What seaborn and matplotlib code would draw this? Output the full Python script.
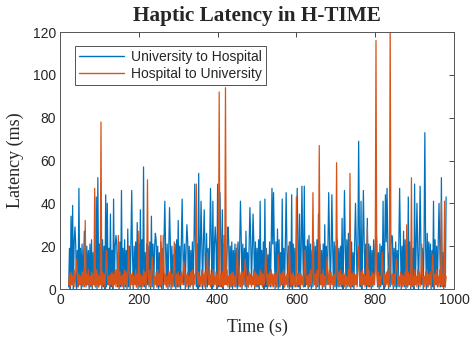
import numpy as np
import pandas as pd
import matplotlib
matplotlib.use("Agg")
import matplotlib.pyplot as plt
import seaborn as sns

# Readings every 2 s from 22 s to 980 s
time_start, time_step, n_samples = 22, 2, 480

# University -> Hospital: ordinary latency readings (ms)
uni_to_hosp_base = [
    1, 19, 0, 21, 2, 17, 0, 22, 1, 20, 0, 18, 1, 23, 2, 19, 0, 21, 1, 16,
    0, 22, 1, 20, 2, 18, 0, 21, 1, 23, 0, 17, 2, 20, 1, 22, 0, 19, 1, 21,
    2, 18, 0, 23, 1, 20, 0, 16, 1, 22, 2, 19, 0, 21, 1, 18, 0, 22, 2, 20,
    0, 21, 1, 17, 0, 22, 1, 20, 2, 19, 0, 23, 1, 18, 0, 21, 1, 20, 0, 22,
    1, 16, 0, 20, 2, 22, 1, 19, 0, 21, 1, 18, 0, 23, 2, 20, 1, 17, 0, 21,
    2, 20, 1, 22, 0, 18, 1, 21, 0, 19, 2, 23, 1, 20, 0, 17, 1, 22, 0, 19,
    0, 23, 2, 19, 1, 21, 0, 18, 1, 22, 0, 20, 2, 16, 1, 21, 0, 23, 1, 18,
    1, 20, 0, 22, 1, 17, 2, 21, 0, 19, 1, 23, 0, 20, 1, 18, 2, 22, 0, 21,
    0, 19, 1, 21, 0, 23, 1, 18, 2, 20, 0, 22, 1, 17, 0, 21, 1, 19, 2, 22,
    1, 22, 0, 18, 2, 21, 1, 20, 0, 23, 1, 16, 0, 22, 1, 19, 0, 21, 2, 20,
    2, 17, 1, 23, 0, 20, 1, 22, 0, 18, 2, 21, 1, 19, 0, 22, 1, 20, 0, 23,
    0, 21, 2, 19, 1, 22, 0, 17, 1, 20, 0, 23, 2, 18, 1, 21, 0, 22, 1, 19,
    1, 23, 0, 20, 2, 18, 1, 22, 0, 21, 1, 19, 0, 16, 2, 22, 1, 20, 0, 21,
    2, 19, 0, 22, 1, 20, 0, 23, 1, 17, 2, 21, 0, 19, 1, 22, 0, 18, 1, 20,
    0, 22, 1, 18, 0, 21, 2, 19, 1, 23, 0, 20, 1, 22, 0, 17, 2, 21, 1, 19,
    1, 20, 2, 23, 0, 19, 1, 21, 0, 18, 1, 22, 2, 20, 0, 23, 1, 17, 0, 21,
    2, 18, 0, 21, 1, 22, 0, 20, 2, 19, 1, 23, 0, 17, 1, 21, 0, 22, 1, 20,
    0, 23, 1, 19, 2, 20, 1, 22, 0, 18, 1, 21, 0, 23, 2, 19, 1, 20, 0, 22,
    1, 17, 0, 22, 1, 21, 2, 19, 0, 23, 1, 18, 0, 20, 1, 22, 2, 21, 0, 19,
    2, 21, 1, 20, 0, 18, 1, 23, 2, 19, 0, 22, 1, 17, 0, 21, 1, 20, 2, 22,
    0, 19, 2, 22, 1, 21, 0, 17, 1, 20, 2, 23, 0, 19, 1, 22, 0, 18, 1, 21,
    1, 22, 0, 20, 2, 19, 1, 23, 0, 21, 1, 17, 2, 22, 0, 20, 1, 19, 0, 23,
    2, 20, 1, 18, 0, 22, 1, 21, 2, 19, 0, 23, 1, 20, 0, 18, 1, 22, 2, 21,
    0, 18, 1, 21, 0, 23, 2, 20, 1, 22, 0, 19, 1, 21, 2, 17, 0, 20, 1, 22,
]
# University -> Hospital: latency peaks, time (s) and value (ms)
uni_to_hosp_peak_t = [
    28, 32, 38, 48, 92, 96, 116, 120, 128, 136, 156, 182, 196, 204, 212,
    232, 266, 278, 300, 310, 342, 352, 358, 366, 382, 388, 394, 400, 406,
    412, 426, 458, 482, 490, 508, 520, 538, 542, 564, 574, 588, 602, 608,
    614, 620, 656, 682, 690, 716, 722, 750, 758, 764, 770, 780, 820, 826,
    830, 862, 884, 900, 906, 914, 926, 948, 962, 968, 980,
    62, 142, 172, 242, 322, 372, 472, 552, 632, 672, 732, 802, 842, 872, 932,
]
uni_to_hosp_peak_ms = [
    34, 39, 29, 47, 43, 52, 44, 40, 35, 42, 46, 46, 31, 37, 57,
    34, 41, 38, 32, 42, 49, 54, 41, 37, 47, 41, 29, 49, 45,
    37, 29, 41, 38, 35, 41, 42, 47, 45, 42, 45, 44, 47, 35,
    48, 48, 35, 45, 44, 33, 46, 40, 69, 41, 46, 33, 41, 44,
    47, 47, 43, 49, 40, 48, 73, 41, 40, 52, 43,
    27, 25, 28, 26, 30, 26, 27, 28, 25, 30, 26, 28, 25, 27, 26,
]

# Hospital -> University: ordinary latency readings (ms)
hosp_to_uni_base = [
    2, 7, 1, 8, 2, 6, 2, 9, 1, 7, 2, 8, 1, 7, 2, 6, 1, 8, 2, 7,
    1, 8, 2, 7, 2, 9, 1, 6, 2, 8, 1, 7, 2, 8, 1, 9, 2, 7, 1, 6,
    2, 6, 1, 8, 2, 7, 1, 9, 2, 8, 2, 6, 1, 7, 2, 8, 1, 7, 2, 9,
    1, 9, 2, 7, 1, 8, 2, 6, 1, 7, 2, 9, 2, 8, 1, 6, 2, 8, 1, 7,
    2, 8, 1, 6, 2, 9, 1, 7, 2, 8, 1, 7, 2, 6, 1, 9, 2, 8, 1, 7,
    1, 7, 2, 9, 1, 8, 2, 7, 1, 6, 2, 8, 1, 9, 2, 7, 1, 8, 2, 6,
    2, 9, 2, 7, 1, 6, 2, 8, 1, 9, 2, 7, 1, 8, 2, 6, 1, 7, 2, 8,
    1, 6, 2, 8, 2, 7, 1, 9, 2, 7, 1, 8, 2, 6, 1, 8, 2, 9, 1, 7,
    2, 8, 1, 7, 2, 8, 2, 6, 1, 9, 2, 7, 1, 8, 2, 7, 1, 6, 2, 9,
    1, 7, 2, 9, 1, 6, 2, 8, 1, 7, 2, 9, 1, 7, 2, 8, 1, 8, 2, 6,
    2, 9, 1, 6, 2, 7, 1, 8, 2, 8, 1, 6, 2, 9, 1, 7, 2, 7, 1, 8,
    1, 8, 2, 7, 1, 9, 2, 6, 1, 8, 2, 7, 1, 6, 2, 9, 1, 8, 2, 7,
    2, 6, 1, 9, 2, 8, 1, 7, 2, 6, 1, 8, 2, 7, 1, 8, 2, 9, 1, 7,
    1, 7, 2, 8, 1, 6, 2, 9, 1, 7, 2, 8, 2, 9, 1, 6, 2, 7, 1, 8,
    2, 9, 1, 7, 2, 8, 1, 6, 2, 9, 1, 7, 2, 8, 1, 7, 2, 6, 1, 8,
    1, 8, 2, 6, 1, 7, 2, 9, 2, 8, 1, 6, 2, 7, 1, 9, 2, 8, 1, 7,
    2, 7, 1, 9, 2, 6, 1, 8, 1, 7, 2, 9, 1, 8, 2, 6, 1, 7, 2, 8,
    1, 6, 2, 8, 1, 9, 2, 7, 2, 8, 1, 7, 2, 6, 1, 9, 2, 8, 1, 7,
    2, 8, 1, 7, 2, 7, 1, 9, 1, 6, 2, 8, 1, 9, 2, 7, 1, 6, 2, 8,
    1, 9, 2, 6, 1, 8, 2, 7, 2, 9, 1, 7, 2, 8, 1, 6, 2, 9, 1, 7,
    2, 7, 1, 8, 2, 9, 1, 6, 1, 8, 2, 7, 1, 7, 2, 9, 1, 8, 2, 6,
    1, 8, 2, 7, 1, 6, 2, 8, 2, 9, 1, 8, 2, 7, 1, 7, 2, 6, 1, 9,
    2, 6, 1, 9, 2, 8, 1, 7, 1, 7, 2, 6, 1, 8, 2, 9, 1, 7, 2, 8,
    1, 7, 2, 8, 1, 7, 2, 9, 2, 6, 1, 9, 2, 8, 1, 7, 2, 8, 1, 6,
]
# Hospital -> University: latency peaks, time (s) and value (ms)
hosp_to_uni_peak_t = [
    64, 88, 104, 148, 200, 222, 256, 262, 346, 404, 416, 420, 600, 642,
    658, 702, 736, 780, 802, 838, 880, 892, 968, 976,
    42, 118, 174, 234, 290, 314, 374, 450, 470, 522, 554, 582, 622, 678,
    758, 818, 854, 918, 946,
]
hosp_to_uni_peak_ms = [
    32, 47, 78, 25, 27, 51, 25, 25, 49, 92, 25, 94, 43, 45,
    67, 59, 54, 29, 116, 125, 30, 52, 41, 41,
    14, 18, 20, 15, 22, 13, 17, 21, 14, 19, 16, 22, 18, 15,
    20, 17, 14, 21, 16,
]

series_names = ["University to Hospital", "Hospital to University"]
x_ticks = [0, 200, 400, 600, 800, 1000]
y_ticks = [0, 20, 40, 60, 80, 100, 120]

time_s = time_start + time_step * np.arange(n_samples)


def with_peaks(base, peak_t, peak_ms):
    values = np.array(base, dtype=float)
    idx = ((np.array(peak_t) - time_start) // time_step).astype(int)
    values[idx] = peak_ms
    return values


uth = with_peaks(uni_to_hosp_base, uni_to_hosp_peak_t, uni_to_hosp_peak_ms)
htu = with_peaks(hosp_to_uni_base, hosp_to_uni_peak_t, hosp_to_uni_peak_ms)

df = pd.DataFrame({
    "Time": np.concatenate([time_s, time_s]),
    "Latency": np.concatenate([uth, htu]),
    "Direction": [series_names[0]] * n_samples + [series_names[1]] * n_samples,
})

sns.set_style("white")
plt.rcParams["font.family"] = ["Liberation Sans", "DejaVu Sans"]
# keep every vertex of the dense traces
plt.rcParams["path.simplify"] = False

fig = plt.figure(figsize=(4.74, 3.46), dpi=100)
ax = fig.add_axes([0.1266, 0.1647, 0.8312, 0.7428])

palette = {series_names[0]: "#0072BD", series_names[1]: "#D95319"}
sns.lineplot(data=df, x="Time", y="Latency", hue="Direction", palette=palette,
             estimator=None, sort=False, linewidth=0.9, ax=ax)

ax.set_xlim(0, 1000)
ax.set_ylim(0, 120)
ax.set_xticks(x_ticks)
ax.set_yticks(y_ticks)
ax.tick_params(direction="in", length=3.5, width=0.6, colors="#262626",
               labelsize=10, top=True, right=True, pad=3)
for side in ax.spines.values():
    side.set_visible(True)
    side.set_color("#555555")
    side.set_linewidth(0.7)

ax.set_title("Haptic Latency in H-TIME", fontsize=15.3, fontweight="bold",
             family="Liberation Serif", pad=8)
ax.set_xlabel("Time (s)", fontsize=13, family="Liberation Serif", labelpad=8)
ax.set_ylabel("Latency (ms)", fontsize=13, family="Liberation Serif", labelpad=6)

leg = ax.legend(loc="upper left", bbox_to_anchor=(0.038, 0.9455), fontsize=10,
                frameon=True, fancybox=False, edgecolor="#262626",
                handlelength=3.2, borderpad=0.3, labelspacing=0.2,
                handletextpad=0.5, borderaxespad=0)
leg.get_frame().set_linewidth(0.7)
for line in leg.get_lines():
    line.set_linewidth(1.0)

fig.savefig("out.png", dpi=100)
